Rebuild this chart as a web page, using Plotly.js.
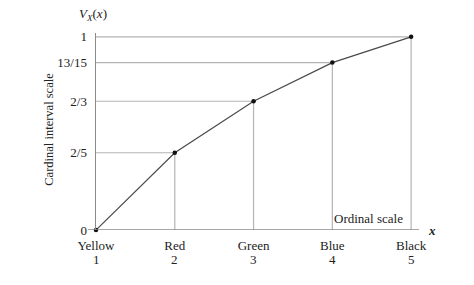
<!DOCTYPE html>
<html>
<head>
<meta charset="utf-8">
<script src="https://cdn.plot.ly/plotly-3.0.1.min.js"></script>
<style>html,body{margin:0;padding:0;background:#fff;}#chart{width:474px;height:285px;}</style>
</head>
<body>
<div id="chart"></div>
<script>
const categories = ['Yellow', 'Red', 'Green', 'Blue', 'Black'];
const ranks = [1, 2, 3, 4, 5];
const values = [0, 2/5, 2/3, 13/15, 1];
const yTickValues = [0, 2/5, 2/3, 13/15, 1];
const yTickLabels = ['0', '2/5', '2/3', '13/15', '1'];

const FONT = 'Liberation Serif, DejaVu Serif, serif';
const TXT = '#222';
const guideColor = '#b4b4b4';
const axisColor = '#8a8a8a';

const traces = [];
for (let i = 1; i < ranks.length; i++) {
  traces.push({
    x: [ranks[0], ranks[i], ranks[i]],
    y: [values[i], values[i], values[0]],
    mode: 'lines',
    line: {color: guideColor, width: 1.2},
    hoverinfo: 'skip',
    showlegend: false
  });
}
traces.push({
  x: ranks,
  y: values,
  mode: 'lines+markers',
  line: {color: '#4a4a4a', width: 1.2},
  marker: {color: '#111', size: 4.5},
  showlegend: false,
  cliponaxis: false
});

const rankAnnotations = ranks.map(r => ({
  text: String(r), xref: 'x', yref: 'y', x: r, y: 0,
  xanchor: 'center', yanchor: 'middle', showarrow: false, yshift: -29,
  font: {family: FONT, size: 13, color: TXT}
}));

const layout = {
  width: 474, height: 285,
  margin: {l: 96, r: 55, t: 33, b: 55},
  paper_bgcolor: '#fff', plot_bgcolor: '#fff',
  font: {family: FONT, size: 12, color: TXT},
  xaxis: {
    range: [1, 5.1],
    tickvals: ranks,
    ticktext: categories,
    showgrid: false, zeroline: false, showline: false,
    ticks: '', ticklabelstandoff: 6,
    tickfont: {family: FONT, size: 13, color: TXT}
  },
  yaxis: {
    range: [0, 1.02],
    tickvals: yTickValues,
    ticktext: yTickLabels,
    showgrid: false, zeroline: false,
    showline: true, linecolor: axisColor, linewidth: 1.5,
    ticks: '', ticklabelstandoff: 5,
    tickfont: {family: FONT, size: 13, color: TXT}
  },
  shapes: [{
    type: 'line', xref: 'paper', yref: 'y',
    x0: -0.025, x1: 1, y0: 0, y1: 0,
    line: {color: axisColor, width: 1.5}
  }],
  annotations: [
    {text: 'Cardinal interval scale', xref: 'paper', yref: 'paper', x: -0.148, y: 0.51,
     xanchor: 'center', yanchor: 'middle', textangle: -90, showarrow: false,
     font: {family: FONT, size: 12.5, color: TXT}},
    {text: '<i>V</i><sub><i>X</i></sub>(<i>x</i>)', xref: 'paper', yref: 'paper', x: -0.01, y: 1.02,
     xanchor: 'center', yanchor: 'bottom', showarrow: false, yshift: 4,
     font: {family: FONT, size: 13, color: TXT}},
    {text: '<b><i>x</i></b>', xref: 'paper', yref: 'y', x: 1.022, y: 0,
     xanchor: 'left', yanchor: 'middle', showarrow: false,
     font: {family: FONT, size: 13, color: TXT}},
    {text: 'Ordinal scale', xref: 'x', yref: 'y', x: 4.46, y: 0,
     xanchor: 'center', yanchor: 'bottom', showarrow: false, yshift: 2,
     font: {family: FONT, size: 13, color: TXT}}
  ].concat(rankAnnotations)
};

Plotly.newPlot('chart', traces, layout, {displayModeBar: false, staticPlot: true});
</script>
</body>
</html>
